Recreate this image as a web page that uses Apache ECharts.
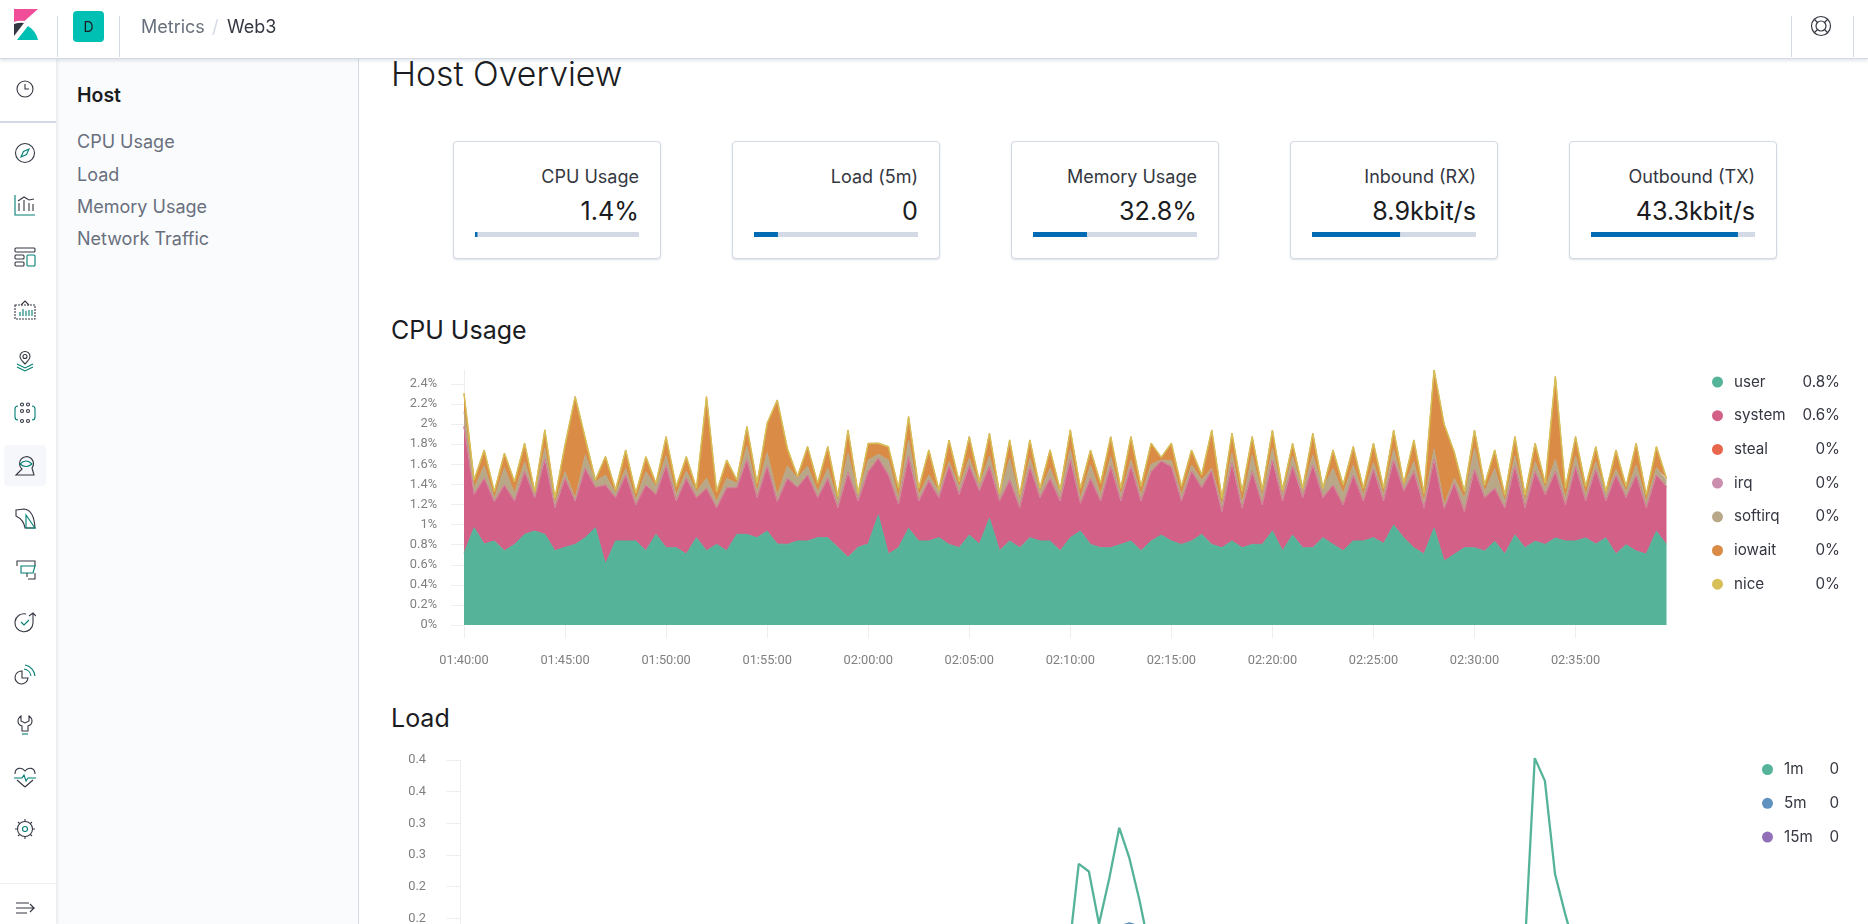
<!DOCTYPE html>
<html>
<head>
<meta charset="utf-8">
<title>Metrics / Web3</title>
<script src="https://cdn.jsdelivr.net/npm/echarts@6/dist/echarts.min.js"></script>
<style>
  html, body { margin: 0; width: 1868px; height: 924px; overflow: hidden; background: #fff; font-family: Inter, "Noto Sans", sans-serif; color: #1a1c21; }
  .abs { position: absolute; }
  #header { left: 0; top: 0; width: 1868px; height: 58px; background: #fff; border-bottom: 1px solid #d3dae6; box-shadow: 0 2px 3px rgba(152,162,179,.25); z-index: 5; }
  .vline { position: absolute; top: 16px; height: 41px; width: 1px; background: #d3dae6; }
  #space { left: 73px; top: 11px; width: 31px; height: 31px; border-radius: 4px; background: #00bfb3; color: #1a1c21; font-size: 14px; line-height: 31px; text-align: center; }
  .crumb { position: absolute; top: 16px; font-size: 18px; line-height: 22px; color: #69707d; }
  #rail { left: 0; top: 59px; width: 56px; height: 865px; background: #fff; box-shadow: 1px 0 3px rgba(152,162,179,.3); z-index: 3; }
  #rail svg { position: absolute; left: 14px; width: 22px; height: 22px; fill: none; stroke: #343741; stroke-width: 1.1; }
  #rail svg .t { stroke: #017d73; }
  #active { left: 4px; top: 386px; width: 42px; height: 41px; background: #f5f7fa; border-radius: 4px; position: absolute; }
  #side { left: 57px; top: 59px; width: 301px; height: 865px; background: #fafbfd; border-right: 1px solid #d3dae6; }
  .navhead { position: absolute; left: 20px; top: 24px; font-size: 19.5px; font-weight: 600; line-height: 24px; }
  .navitem { position: absolute; left: 20px; font-size: 18px; line-height: 22px; color: #69707d; }
  #pagetitle { left: 391px; top: 52px; font-size: 33.8px; font-weight: 300; line-height: 44px; }
  .section { position: absolute; left: 391px; font-size: 25px; font-weight: 400; line-height: 30px; }
  .card { position: absolute; top: 141px; width: 206px; height: 116px; background: #fff; border: 1px solid #d3dae6; border-radius: 4px; box-shadow: 0 1px 2px rgba(152,162,179,.35); text-align: right; }
  .card .name { position: absolute; right: 21px; top: 24px; font-size: 18px; line-height: 22px; color: #343741; white-space: nowrap; }
  .card .val { position: absolute; right: 21px; top: 51px; font-size: 25.2px; line-height: 36px; color: #1a1c21; white-space: nowrap; }
  #chart { position: absolute; left: 0; top: 0; width: 1868px; height: 1100px; z-index: 2; }
</style>
</head>
<body>
<div id="side" class="abs">
  <div class="navhead">Host</div>
  <div class="navitem" style="top:72px">CPU Usage</div>
  <div class="navitem" style="top:105px">Load</div>
  <div class="navitem" style="top:137px">Memory Usage</div>
  <div class="navitem" style="top:169px">Network Traffic</div>
</div>
<div id="pagetitle" class="abs">Host Overview</div>
<div class="section" style="top:315px">CPU Usage</div>
<div class="section" style="top:703px">Load</div>
<div id="cards"></div>
<div id="chart"></div>

<div id="header" class="abs">
  <svg class="abs" style="left:0;top:0" width="50" height="50" viewBox="0 0 50 50">
    <path fill="#f04e98" d="M14 9H38L24.5 21Q19 20 14 22Z"/>
    <path fill="#343741" d="M14 24Q20 22 24 23L14 36Z"/>
    <path fill="#00bfb3" d="M17 40L28 26Q36 31 38 40Z"/>
  </svg>
  <div class="vline" style="left:57px"></div>
  <div id="space" class="abs">D</div>
  <div class="vline" style="left:119px"></div>
  <div class="crumb" style="left:141px">Metrics</div>
  <div class="crumb" style="left:212px;color:#d3dae6">/</div>
  <div class="crumb" style="left:227px;color:#343741">Web3</div>
  <div class="vline" style="left:1791px"></div>
  <div class="vline" style="left:1853px"></div>
  <svg class="abs" style="left:1810px;top:15px;fill:none;stroke:#343741;stroke-width:1.2" width="22" height="22" viewBox="0 0 22 22">
    <circle cx="11" cy="11" r="9.5"/><circle cx="11" cy="11" r="5"/>
    <path d="M4.5 4.5L7.5 7.5M17.5 4.5L14.5 7.5M4.5 17.5L7.5 14.5M17.5 17.5L14.5 14.5"/>
  </svg>
</div>

<div id="rail" class="abs">
  <div id="active"></div>
  <svg viewBox="0 0 22 22" style="top:19px"><circle cx="11" cy="11" r="8"/><path d="M11 6V11H15"/></svg>
  <div style="position:absolute;left:0;top:62px;width:56px;height:2px;background:#d3dae6"></div>
  <svg viewBox="0 0 22 22" style="top:83px"><circle cx="11" cy="11" r="9.5"/><path class="t" d="M15 7L12.5 12.5L7 15L9.5 9.5Z"/></svg>
  <svg viewBox="0 0 22 22" style="top:135px"><path class="t" d="M1 1V21H21"/><path d="M5 17V9M10 17V6M15 17V9M19 17V10M4 7L10 3L15 6L20 5"/></svg>
  <svg viewBox="0 0 22 22" style="top:187px"><rect x="1" y="2" width="20" height="4" rx="1"/><rect x="1" y="9" width="9" height="4" rx="1"/><rect x="1" y="16" width="9" height="4" rx="1"/><rect class="t" x="13" y="9" width="8" height="11" rx="1"/></svg>
  <svg viewBox="0 0 22 22" style="top:240px"><rect x="1" y="6" width="20" height="14" stroke-dasharray="2 1"/><path d="M7 6L11 2L15 6"/><path class="t" d="M6 17V13M9 17V10M12 17V12M15 17V11M18 17V11"/></svg>
  <svg viewBox="0 0 22 22" style="top:291px"><path d="M11 14C7 10 6 8 6 6.500A5 5 0 0 1 16 6.500C16 8 15 10 11 14Z"/><circle cx="11" cy="6.500" r="2"/><path class="t" d="M3 14L11 18L19 14M3 17L11 21L19 17"/></svg>
  <svg viewBox="0 0 22 22" style="top:343px"><path class="t" d="M4 4Q1 4 1 7V15Q1 18 4 18M18 4Q21 4 21 7V15Q21 18 18 18"/><circle cx="8" cy="2.500" r="1.500"/><circle cx="14" cy="2.500" r="1.500"/><circle cx="8" cy="9" r="1.500"/><circle cx="14" cy="9" r="1.500"/><circle cx="8" cy="19" r="1.500"/><circle cx="14" cy="19" r="1.500"/></svg>
  <svg viewBox="0 0 22 22" style="top:396px"><path d="M2 20L8 14A7 7 0 1 1 18 13L20 20Z"/><path class="t" d="M6 9Q12 3 18 9Q12 14 6 9Z"/></svg>
  <svg viewBox="0 0 22 22" style="top:448px"><path d="M2 3L10 2Q20 3 21 21H11Q10 13 2 9Z"/><path class="t" d="M12 21V8L21 21Z"/></svg>
  <svg viewBox="0 0 22 22" style="top:500px"><path d="M3 7V2H21V7M13 14V18M21 14V20H14"/><path class="t" d="M7 7H21L19 14H7Z"/></svg>
  <svg viewBox="0 0 22 22" style="top:552px"><path d="M12 3A9 9 0 1 0 19 12V2M15 5L19 2L22 5"/><path class="t" d="M7 11L10 14L15 9"/></svg>
  <svg viewBox="0 0 22 22" style="top:604px"><path d="M8 8A6.500 6.500 0 1 0 14 15H8Z"/><path class="t" d="M10 6A8 8 0 0 1 17 13M11 2A12 12 0 0 1 21 13"/></svg>
  <svg viewBox="0 0 22 22" style="top:655px"><path d="M7 2Q4 4 4 7Q4 11 8 12V17H14V12Q18 11 18 7Q18 4 15 2V7L11 9L7 7Z"/><path class="t" d="M8 20H14"/></svg>
  <svg viewBox="0 0 22 22" style="top:707px"><path d="M11 21L3 14M11 21L19 14M1 8C1 1 8 1 11 5C14 1 21 1 21 8"/><path class="t" d="M0 12H8L10 9L12 15L14 12H22"/></svg>
  <svg viewBox="0 0 22 22" style="top:759px"><circle cx="11" cy="11" r="7.500"/><path d="M11 1V3.500M11 18.500V21M1 11H3.500M18.500 11H21M4 4L5.700 5.700M16.300 16.300L18 18M4 18L5.700 16.300M16.300 5.700L18 4"/><circle class="t" cx="11" cy="11" r="2.500"/></svg>
  <div style="position:absolute;left:0;top:824px;width:56px;height:1px;background:#eef0f4"></div>
  <svg viewBox="0 0 22 22" style="top:839px"><path d="M2 5H15M2 10H20L16 6M2 15H13M20 10L16 14"/></svg>
</div>

<script>
const cpuNames = ['user', 'system', 'steal', 'irq', 'softirq', 'iowait', 'nice']
const cpuLegendValues = ['0.8%', '0.6%', '0%', '0%', '0%', '0%', '0%']
const cpuColors = ['#54b399', '#d36086', '#e7664c', '#ca8eae', '#b9a888', '#da8b45', '#d6bf57']
const cpuTicks = [0, 0.2, 0.4, 0.6, 0.8, 1, 1.2, 1.4, 1.6, 1.8, 2, 2.2, 2.4]

const user = [
  .714, .969, .807, .837, .74, .803, .903, .936, .903, .74,
  .774, .803, .87, .969, .608, .837, .837, .837, .74, .903,
  .77, .77, .707, .87, .74, .803, .74, .903, .903, .87,
  .936, .807, .803, .837, .837, .87, .87, .774, .674, .774,
  .807, 1.096, .707, .77, .963, .837, .837, .87, .803, .77,
  .896, .807, 1.062, .74, .837, .77, .87, .837, .837, .74,
  .87, .936, .803, .77, .77, .803, .837, .74, .837, .896,
  .837, .803, .837, .903, .803, .77, .837, .77, .803, .803,
  .936, .74, .896, .77, .77, .87, .803, .74, .837, .837,
  .87, .813, .996, .87, .77, .707, .963, .637, .704, .77,
  .77, .737, .833, .707, .896, .77, .833, .803, .867, .837,
  .837, .867, .807, .867, .707, .8, .737, .707, .933, .803
]
const system = [
  1.262, .332, .654, .392, .654, .432, .624, .332, .747, .428,
  .687, .432, .691, .402, .787, .432, .657, .359, .654, .398,
  .817, .465, .754, .398, .621, .365, .627, .465, .747, .398,
  .647, .422, .657, .535, .657, .398, .591, .395, .843, .461,
  .72, .564, .787, .432, .714, .398, .601, .398, .79, .531,
  .691, .531, .521, .495, .608, .398, .707, .432, .624, .495,
  .78, .276, .657, .465, .813, .432, .747, .495, .691, .737,
  .74, .432, .697, .465, .74, .359, .774, .392, .724, .392,
  .707, .495, .687, .498, .823, .398, .591, .455, .657, .398,
  .681, .422, .647, .465, .757, .461, .687, .525, .707, .359,
  .78, .531, .528, .458, .687, .395, .694, .495, .661, .359,
  .74, .369, .744, .369, .787, .468, .757, .458, .561, .574
]
const steal = [
  0, 0, 0, 0, 0, 0, 0, 0, 0, 0, 0, 0, 0, 0, 0, 0, 0, 0, 0, 0,
  0, 0, 0, 0, 0, 0, 0, 0, 0, 0, 0, 0, 0, 0, 0, 0, 0, 0, 0, 0,
  0, 0, 0, 0, 0, 0, 0, 0, 0, 0, 0, 0, 0, 0, 0, 0, 0, 0, 0, 0,
  0, 0, 0, 0, 0, 0, 0, 0, 0, 0, 0, 0, 0, 0, 0, 0, 0, 0, 0, 0,
  0, 0, 0, 0, 0, 0, 0, 0, 0, 0, 0, 0, 0, 0, 0, 0, 0, 0, 0, 0,
  0, 0, 0, 0, 0, 0, 0, 0, 0, 0, 0, 0, 0, 0, 0, 0, 0, 0, 0, 0
]
const irq = [
  0, 0, 0, 0, 0, 0, 0, 0, 0, 0, 0, 0, 0, 0, 0, 0, 0, 0, 0, 0,
  0, 0, 0, 0, 0, 0, 0, 0, 0, 0, 0, 0, 0, 0, 0, 0, 0, 0, 0, 0,
  0, 0, 0, 0, 0, 0, 0, 0, 0, 0, 0, 0, 0, 0, 0, 0, 0, 0, 0, 0,
  0, 0, 0, 0, 0, 0, 0, 0, 0, 0, 0, 0, 0, 0, 0, 0, 0, 0, 0, 0,
  0, 0, 0, 0, 0, 0, 0, 0, 0, 0, 0, 0, 0, 0, 0, 0, 0, 0, 0, 0,
  0, 0, 0, 0, 0, 0, 0, 0, 0, 0, 0, 0, 0, 0, 0, 0, 0, 0, 0, 0
]
const softirq = [
  .149, .06, .123, .033, .173, .076, .1, .027, .11, .043,
  .066, .027, .133, .056, .1, .043, .066, .05, .133, .076,
  .1, .06, .073, .06, .1, .06, .093, .043, .133, .06,
  .133, .066, .123, .09, .09, .06, .1, .06, .193, .06,
  .116, .04, .149, .06, .166, .06, .056, .06, .033, .076,
  .073, .056, .1, .06, .216, .076, .083, .06, .1, .076,
  .1, .05, .133, .066, .093, .06, .06, .06, .073, .01,
  .06, .06, .06, .076, .017, .066, .1, .05, .166, .083,
  .116, .06, .1, .06, .1, .093, .166, .116, .1, .06,
  .066, .066, .106, .043, .1, .06, .1, .033, .05, .133,
  .209, .06, .199, .063, .1, .063, .1, .063, .123, .066,
  .106, .06, .076, .06, .056, .06, .1, .063, .073, .066
]
const iowait = [
  .183, .083, .159, .066, .143, .116, .183, .033, .183, .05,
  .266, 1.013, .166, .017, .183, .033, .183, .066, .149, .033,
  .189, .083, .143, .033, .813, .1, .183, .033, .193, .083,
  .292, .946, .176, .017, .193, .083, .216, .05, .232, .017,
  .166, .11, .133, .1, .232, .066, .249, .017, .216, .05,
  .216, .033, .226, .017, .183, .05, .183, .033, .183, .033,
  .193, .1, .149, .11, .199, .066, .232, .083, .209, .027,
  .173, .083, .149, .05, .382, .066, .199, .116, .183, .066,
  .183, .05, .126, .033, .216, 0, .183, .083, .183, .066,
  .193, .06, .193, .033, .216, .083, .79, .803, .259, .066,
  .183, .066, .183, .066, .193, .066, .183, .05, .823, .1,
  .193, .083, .149, .033, .193, .05, .216, .066, .209, .017
]
const nice = [
  0, 0, 0, 0, 0, 0, 0, 0, 0, 0, 0, 0, 0, 0, 0, 0, 0, 0, 0, 0,
  0, 0, 0, 0, 0, 0, 0, 0, 0, 0, 0, 0, 0, 0, 0, 0, 0, 0, 0, 0,
  0, 0, 0, 0, 0, 0, 0, 0, 0, 0, 0, 0, 0, 0, 0, 0, 0, 0, 0, 0,
  0, 0, 0, 0, 0, 0, 0, 0, 0, 0, 0, 0, 0, 0, 0, 0, 0, 0, 0, 0,
  0, 0, 0, 0, 0, 0, 0, 0, 0, 0, 0, 0, 0, 0, 0, 0, 0, 0, 0, 0,
  0, 0, 0, 0, 0, 0, 0, 0, 0, 0, 0, 0, 0, 0, 0, 0, 0, 0, 0, 0
]

const loadNames = ['1m', '5m', '15m']
const loadLegendValues = ['0', '0', '0']
const loadColors = ['#54b399', '#6092c0', '#9170b8']
const loadTicks = [0, 0.05, 0.1, 0.15, 0.2, 0.25, 0.3, 0.35, 0.4, 0.45]
const loadTickLabels = ['0', '0', '0.1', '0.1', '0.2', '0.2', '0.3', '0.3', '0.4', '0.4']
// everything under 0.19 is below the fold in the reference, those are rough guesses
const load1m = [
  .04, .03, .03, .02, .02, .05, .04, .03, .02, .02,
  .01, .01, .03, .02, .02, .01, .01, .02, .03, .02,
  .02, .01, .01, .02, .02, .01, .01, .03, .02, .02,
  .01, .01, .01, .02, .04, .03, .02, .02, .01, .01,
  .02, .02, .03, .02, .01, .01, .02, .03, .02, .02,
  .03, .05, .04, .03, .02, .03, .04, .05, .06, .08,
  .144, .286, .274, .191, .262, .343, .295, .228, .15, .12,
  .1, .08, .07, .06, .05, .05, .04, .04, .03, .03,
  .02, .02, .03, .02, .02, .01, .01, .02, .02, .01,
  .02, .01, .01, .02, .03, .03, .02, .02, .01, .02,
  .03, .02, .02, .03, .05, .148, .453, .417, .27, .207,
  .15, .12, .1, .08, .07, .06, .05, .04, .04, .03
]
const load5m = [
  .05, .05, .04, .04, .04, .04, .04, .04, .03, .03,
  .03, .03, .03, .03, .03, .02, .02, .02, .02, .02,
  .02, .02, .02, .02, .02, .02, .02, .02, .02, .02,
  .02, .02, .02, .02, .02, .02, .02, .02, .02, .02,
  .02, .02, .02, .02, .02, .02, .02, .02, .02, .02,
  .02, .02, .03, .03, .03, .03, .04, .04, .05, .07,
  .1, .12, .14, .15, .17, .187, .192, .187, .17, .16,
  .15, .14, .13, .13, .12, .12, .11, .1, .1, .09,
  .09, .08, .08, .07, .07, .06, .06, .06, .05, .05,
  .05, .05, .05, .04, .04, .04, .04, .04, .04, .04,
  .04, .04, .04, .04, .05, .07, .12, .14, .16, .17,
  .17, .16, .15, .14, .14, .13, .12, .11, .11, .1
]
const load15m = [
  .06, .06, .06, .06, .06, .05, .05, .05, .05, .05,
  .05, .05, .05, .04, .04, .04, .04, .04, .04, .04,
  .04, .04, .04, .04, .04, .03, .03, .03, .03, .03,
  .03, .03, .03, .03, .03, .03, .03, .03, .03, .03,
  .03, .03, .03, .03, .03, .03, .03, .03, .03, .03,
  .03, .03, .03, .03, .03, .03, .03, .03, .04, .04,
  .05, .06, .07, .07, .08, .09, .09, .09, .09, .09,
  .09, .09, .09, .08, .08, .08, .08, .08, .08, .07,
  .07, .07, .07, .07, .07, .06, .06, .06, .06, .06,
  .06, .06, .06, .06, .06, .05, .05, .05, .05, .05,
  .05, .05, .05, .05, .05, .06, .07, .08, .09, .09,
  .09, .09, .09, .09, .09, .08, .08, .08, .08, .08
]

const cardNames = ['CPU Usage', 'Load (5m)', 'Memory Usage', 'Inbound (RX)', 'Outbound (TX)']
const cardValues = ['1.4%', '0', '32.8%', '8.9kbit/s', '43.3kbit/s']
const cardFill = [1.5, 14.6, 32.9, 53.7, 89.6]

// one sample every 30s from 01:40:00, so a label every 10th category
const pad = n => String(n).padStart(2, '0')
const timeLabel = i => {
  const secs = 100 * 60 + i * 30
  return `${pad(Math.floor(secs / 3600))}:${pad(Math.floor(secs / 60) % 60)}:${pad(secs % 60)}`
}
const cpuTimes = user.map((v, i) => timeLabel(i))
const everyFiveMin = i => i % 10 === 0

// stat cards are plain html, the little bars go through echarts below
const $cards = document.getElementById('cards')
cardNames.forEach((name, i) => {
  const $card = document.createElement('div')
  $card.className = 'card'
  $card.style.left = 453 + 279 * i + 'px'
  $card.innerHTML = `<div class="name">${name}</div><div class="val">${cardValues[i]}</div>`
  $cards.appendChild($card)
})

const tickStyle = { show: true, length: 13, lineStyle: { color: '#eee', width: 1 } }
const tickFont = { color: '#808080', fontSize: 12.8, fontFamily: 'Roboto' }

function legendFormatter(names, values) {
  return name => `{n|${name}}{v|${values[names.indexOf(name)]}}`
}

function buildLegend(names, values, left, top, gap, nameW, valueW) {
  return {
    data: names,
    orient: 'vertical',
    left,
    top,
    icon: 'circle',
    itemWidth: 11,
    itemHeight: 11,
    itemGap: gap,
    selectedMode: false,
    formatter: legendFormatter(names, values),
    textStyle: {
      rich: {
        n: { width: nameW, fontSize: 15.2, height: 18, lineHeight: 18, color: '#343741', fontFamily: 'Inter', padding: [0, 0, 0, 6] },
        v: { width: valueW, align: 'right', fontSize: 15.2, height: 18, lineHeight: 18, color: '#343741', fontFamily: 'Inter' }
      }
    }
  }
}

const cpuSeries = [user, system, steal, irq, softirq, iowait, nice].map((values, i) => ({
  name: cpuNames[i],
  type: 'line',
  stack: 'cpu',
  xAxisIndex: 0,
  yAxisIndex: 0,
  data: values,
  showSymbol: false,
  color: cpuColors[i],
  lineStyle: { width: i === 6 ? 1.5 : 1, color: cpuColors[i] },
  areaStyle: { color: cpuColors[i], opacity: 1 }
}))

const loadSeries = [load1m, load5m, load15m].map((values, i) => ({
  name: loadNames[i],
  type: 'line',
  xAxisIndex: 1,
  yAxisIndex: 1,
  data: values.map((v, k) => [k, v]),
  showSymbol: false,
  clip: false,
  color: loadColors[i],
  lineStyle: { width: 2.3, color: loadColors[i] }
}))

const gaugeSeries = cardFill.map((v, i) => ({
  name: cardNames[i],
  type: 'bar',
  xAxisIndex: 2 + i,
  yAxisIndex: 2 + i,
  data: [v],
  barWidth: 5,
  color: '#006bb4',
  showBackground: true,
  backgroundStyle: { color: '#d3dae6' }
}))

const option = {
  animation: false,
  grid: [
    { left: 464, top: 370, width: 1202.5, height: 255 },
    { left: 453, top: 760, width: 1213.5, height: 285 },
    ...cardFill.map((v, i) => ({ left: 475 + 279 * i, top: 232, width: 164, height: 5 }))
  ],
  xAxis: [
    {
      type: 'category',
      gridIndex: 0,
      data: cpuTimes,
      boundaryGap: false,
      splitLine: { show: false },
      axisLine: { show: false },
      axisTick: { ...tickStyle, interval: everyFiveMin },
      axisLabel: { ...tickFont, margin: 29, interval: everyFiveMin }
    },
    // the load line starts a bit right of its axis in the reference
    { type: 'value', gridIndex: 1, min: -0.75, max: 119, show: false },
    ...cardFill.map((v, i) => ({ type: 'value', gridIndex: 2 + i, min: 0, max: 100, show: false }))
  ],
  yAxis: [
    {
      type: 'value',
      gridIndex: 0,
      min: 0,
      max: 2.54,
      splitLine: { show: false },
      axisLine: { show: true, lineStyle: { color: '#eee' } },
      axisTick: { ...tickStyle, customValues: cpuTicks },
      axisLabel: {
        ...tickFont,
        margin: 27,
        customValues: cpuTicks,
        formatter: v => parseFloat(v.toFixed(1)) + '%'
      }
    },
    {
      type: 'value',
      gridIndex: 1,
      min: 0,
      max: 0.45,
      splitLine: { show: false },
      axisLine: { show: true, lineStyle: { color: '#eee' } },
      axisTick: { ...tickStyle, length: 14, customValues: loadTicks },
      axisLabel: {
        ...tickFont,
        margin: 27,
        customValues: loadTicks,
        formatter: v => loadTickLabels[Math.round(v / 0.05)]
      }
    },
    ...cardFill.map((v, i) => ({ type: 'category', gridIndex: 2 + i, data: [cardNames[i]], show: false }))
  ],
  legend: [
    buildLegend(cpuNames, cpuLegendValues, 1707, 368, 15.7, 62, 44),
    buildLegend(loadNames, loadLegendValues, 1757, 755.500, 15.8, 33, 22)
  ],
  series: [...cpuSeries, ...loadSeries, ...gaugeSeries]
}

const chart = echarts.init(document.getElementById('chart'), null, { renderer: 'canvas' })
chart.setOption(option)
</script>
</body>
</html>
